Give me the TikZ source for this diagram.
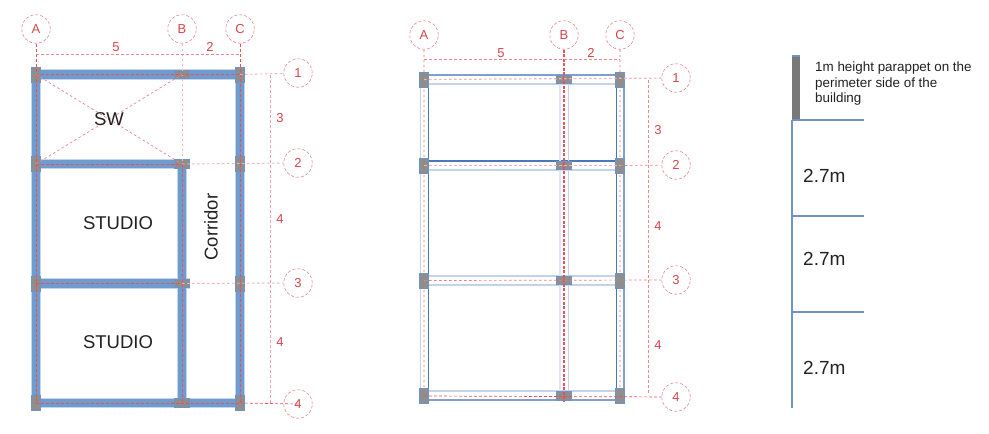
\documentclass[tikz,border=0pt]{standalone}
\usepackage{fontspec}
\setmainfont{Liberation Sans}
\usepackage{xcolor}
\usetikzlibrary{calc,positioning}
\definecolor{bg}{HTML}{FFFFFF}
\definecolor{beam}{HTML}{6F9BCE}
\definecolor{halo}{HTML}{C4D6EC}
\definecolor{edge}{HTML}{4A78B5}
\definecolor{faint}{HTML}{C5D3E6}
\definecolor{colgrey}{HTML}{8E8E8E}
\definecolor{redline}{HTML}{E8505A}
\definecolor{pinkline}{HTML}{F4B4B8}
\definecolor{ring}{HTML}{E98A8E}
\definecolor{redtext}{HTML}{D9454C}
\definecolor{ink}{HTML}{222222}
\tikzset{
  beamhalo/.style={draw=halo, line width=10.5pt},
  beamfill/.style={draw=beam, line width=8.8pt},
  wall/.style={draw=edge, line width=1.1pt},
  wallm/.style={draw=edge!70!white, line width=1.1pt},
  walll/.style={draw=faint, line width=1.3pt},
  wallx/.style={draw=faint!60!white, line width=1.3pt},
  col/.style={draw=edge!80!white, fill=colgrey, line width=0.6pt, inner sep=0pt, minimum width=9pt, minimum height=15pt},
  colb/.style={draw=edge!80!white, fill=colgrey, line width=0.6pt, inner sep=0pt, minimum width=15pt, minimum height=8.5pt},
  axis/.style={draw=redline, dash pattern=on 3pt off 2pt, line width=0.7pt},
  axisl/.style={draw=pinkline, dash pattern=on 2.5pt off 2.5pt, line width=0.9pt},
  axisw/.style={draw=pinkline!70!white, dash pattern=on 2.5pt off 2.5pt, line width=1.8pt},
  axisb/.style={draw=redline, dash pattern=on 3pt off 1.5pt, line width=1.1pt},
  bubble/.style={circle, draw=ring, densely dashed, line width=0.6pt, minimum size=28.5pt, inner sep=0pt, text=redtext, font=\fontsize{13}{14}\selectfont},
  dimtxt/.style={text=redtext, font=\fontsize{13}{14}\selectfont, inner sep=0pt},
  room/.style={text=ink, font=\fontsize{18.5}{20}\selectfont, inner sep=0pt},
  level/.style={text=ink, font=\fontsize{19}{20}\selectfont, inner sep=0pt},
  note/.style={text=ink, font=\fontsize{13.4}{15.2}\selectfont, align=left, inner sep=0pt},
  story/.style={draw=edge!80!white, line width=1.1pt},
}
\begin{document}
\begin{tikzpicture}[x=1pt,y=-1pt]
\useasboundingbox (0,0) rectangle (989,434);
\fill[bg] (0,0) rectangle (989,434);
% grid points
\foreach \c/\xx in {A/36,B/182,C/240}
  \foreach \r/\yy in {1/74.5,2/164,3/283.5,4/403}
    \coordinate (l\c\r) at (\xx,\yy);
\foreach \c/\xx in {A/424,B/564,C/620}
  \foreach \r/\yy in {1/79.5,2/165.5,3/280.5,4/396}
    \coordinate (m\c\r) at (\xx,\yy);
\coordinate (lB2e) at (190,164);
\coordinate (lB3e) at (190,283.5);
% left plan, beams
\draw[beamhalo] (lA1) -- (lC1) (lA2) -- (lB2e) (lA3) -- (lB3e) (lA4) -- (lC4) (lA1) -- (lA4) (lC1) -- (lC4) (lB2) -- (lB4);
\draw[beamfill] (lA1) -- (lC1) (lA2) -- (lB2e) (lA3) -- (lB3e) (lA4) -- (lC4) (lA1) -- (lA4) (lC1) -- (lC4) (lB2) -- (lB4);
% left plan, columns
\foreach \c in {A,C} \foreach \r in {1,2,3,4} {
  \node[col] (cl\c\r) at (l\c\r) {};
}
\foreach \r in {1,2,3,4} {
  \node[colb] (cl-B\r) at (lB\r) {};
}
% left plan, bubbles and axes
\node[bubble] (blA) at (36,29) {A};
\node[bubble] (blB) at (182,29) {B};
\node[bubble] (blC) at (240,29) {C};
\node[bubble] (bl1) at (298,73) {1};
\node[bubble] (bl2) at (298,163) {2};
\node[bubble] (bl3) at (298,283) {3};
\node[bubble] (bl4) at (298,404) {4};
\foreach \c in {A,C} {
  \draw[axis] (bl\c) -- (l\c4);
}
\draw[axisl] (blB) -- (lB2);
\draw[axis] (lB2) -- (lB4);
\draw[axis] (lA1) -- (lC1);
\draw[axis] (lA2) -- (lB2);
\draw[axis] (lA3) -- (lB3);
\draw[axis] (lA4) -- (lC4);
\draw[axisl] (lC1) -- (bl1);
\draw[axisl] (lB2) -- (bl2);
\draw[axisl] (lB3) -- (bl3);
\draw[axis] (lC4) -- (bl4.center);
\draw[axisl, draw=redline!70!white, line width=0.7pt] (lA1) -- (lB2);
\draw[axisl, draw=redline!70!white, line width=0.7pt] (lA2) -- (lB1);
% left plan, dimensions
\coordinate (dlA) at (36,54);
\coordinate (dlC) at (240,54);
\coordinate (dl1) at (270,75);
\coordinate (dl4) at (270,403);
\draw[axisl, draw=ring] (dlA) -- (dlC);
\draw[axisl, draw=ring!80!white] (dl1) -- (dl4);
\node[dimtxt] (tl5) at (116,47) {5};
\node[dimtxt] (tl2) at (210,47) {2};
\node[dimtxt] (tl3) at (280,118) {3};
\node[dimtxt] (tl4) at (280,219) {4};
\node[dimtxt] (tl6) at (280,342) {4};
% left plan, rooms
\node[room] (sw) at (109,119) {SW};
\node[room] (studioa) at (118,223) {STUDIO};
\node[room] (studiob) at (118,342) {STUDIO};
\node[room, rotate=90] (corridor) at (211,227) {Corridor};
% middle plan, beam outlines
\draw[wallm] (421,75) -- (624,75);
\draw[walll] (421,84) -- (624,84);
\draw[wall] (421,161) -- (624,161);
\draw[walll] (421,170) -- (624,170);
\draw[walll] (421,276) -- (624,276);
\draw[walll] (421,285) -- (624,285);
\draw[walll] (421,391) -- (624,391);
\draw[wallm] (421,400) -- (624,400);
\draw[walll] (420.5,72) -- (420.5,402);
\draw[wall] (428.5,72) -- (428.5,402);
\draw[wall] (616.5,72) -- (616.5,402);
\draw[wallm] (624,72) -- (624,402);
\draw[wallx] (560,83) -- (560,392);
\draw[walll] (568.5,83) -- (568.5,392);
% middle plan, bubbles and axes
\node[bubble] (bmA) at (424,35) {A};
\node[bubble] (bmB) at (564,35) {B};
\node[bubble] (bmC) at (620,35) {C};
\node[bubble] (bm1) at (676,78) {1};
\node[bubble] (bm2) at (676,165) {2};
\node[bubble] (bm3) at (676,280) {3};
\node[bubble] (bm4) at (676,397) {4};
\coordinate (mBe) at (564,401);
\draw[axisw] (bmA) -- (mA4);
\draw[axisw] (bmC) -- (mC4);
% middle plan, columns
\foreach \c in {A,C} \foreach \r in {1,2,3,4} {
  \node[col] (cm\c\r) at (m\c\r) {};
}
\foreach \r in {1,2,3,4} {
  \node[colb] (cm-B\r) at (mB\r) {};
}
\draw[axisb] (bmB) -- (mBe);
\draw[axisl, line width=1.2pt] (mA1) -- (bm1);
\draw[axisl, line width=1.2pt] (mA2) -- (mC2);
\draw[axisl, draw=ring, line width=0.7pt] (mC2) -- (bm2);
\draw[axisl, draw=redline!75!white, line width=0.7pt] (mA3) -- (bm3);
\draw[axis] (mA4) -- (bm4);
% middle plan, dimensions
\coordinate (dmA) at (424,59.5);
\coordinate (dmC) at (620,59.5);
\coordinate (dm1) at (648,80);
\coordinate (dm4) at (648,395);
\draw[axisl, draw=ring] (dmA) -- (dmC);
\draw[axisl, draw=ring] (dm1) -- (dm4);
\node[dimtxt] (tm5) at (501,53) {5};
\node[dimtxt] (tm2) at (591,53) {2};
\node[dimtxt] (tm3) at (658,130) {3};
\node[dimtxt] (tm4) at (658,226) {4};
\node[dimtxt] (tm6) at (658,345) {4};
% section
\fill[colgrey!85!black] (792,56) rectangle (799.5,120);
\draw[story] (792,56) -- (799.5,56);
\draw[story] (792,120) -- (792,408);
\draw[story] (792,120) -- (864,120);
\draw[story] (792,216) -- (864,216);
\draw[story] (792,312) -- (864,312);
\node[note, anchor=north west] (parapet) at (815,62) {1m height parappet on the\\perimeter side of the\\building};
\node[level, anchor=west] (fa) at (803,176) {2.7m};
\node[level, anchor=west] (fb) at (803,259) {2.7m};
\node[level, anchor=west] (fc) at (803,368) {2.7m};
\end{tikzpicture}
\end{document}
